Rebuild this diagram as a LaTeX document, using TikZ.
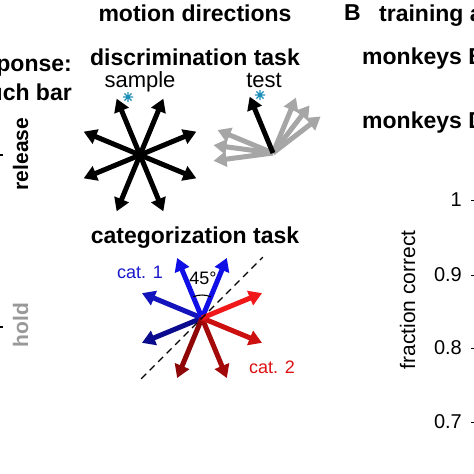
\documentclass[tikz,border=0pt]{standalone}
\usepackage{fontspec}
\setmainfont{Liberation Sans}
\usetikzlibrary{arrows.meta}
\definecolor{astc}{HTML}{1C8FB8}
\definecolor{greyarr}{HTML}{A6A6A6}
\definecolor{holdgrey}{HTML}{999999}
\definecolor{bA}{HTML}{1010E6}
\definecolor{bB}{HTML}{1414BC}
\definecolor{bC}{HTML}{0B0B8E}
\definecolor{rD}{HTML}{F01818}
\definecolor{rE}{HTML}{CC1010}
\definecolor{rF}{HTML}{A50A0A}
\definecolor{rG}{HTML}{8E0606}
\definecolor{cattxtA}{HTML}{1A1ACC}
\definecolor{cattxtB}{HTML}{DD1111}
\tikzset{
  arr/.style={line width=5pt,-{Triangle[width=15pt,length=13pt]}},
  ttl/.style={font=\fontsize{23}{27}\selectfont\bfseries, inner sep=0pt, anchor=base},
  lbl/.style={font=\fontsize{22}{26}\selectfont, inner sep=0pt, anchor=base},
  small/.style={font=\fontsize{18}{22}\selectfont, inner sep=0pt, anchor=base},
  side/.style={font=\fontsize{21}{25}\selectfont\bfseries, inner sep=0pt, anchor=base, rotate=90},
  ticklbl/.style={font=\fontsize{20}{24}\selectfont, inner sep=0pt, anchor=east},
  astmark/.pic={\draw[astc, line width=1.3pt] (-5pt,0pt)--(5pt,0pt) (0pt,-5pt)--(0pt,5pt)
     (-3.6pt,-3.6pt)--(3.6pt,3.6pt) (-3.6pt,3.6pt)--(3.6pt,-3.6pt);}
}
\begin{document}
\begin{tikzpicture}[x=1pt,y=-1pt]
\useasboundingbox (0,0) rectangle (474,474);
\clip (0,0) rectangle (474,474);
\fill[white] (0,0) rectangle (474,474);

% titles
\node[ttl] (t1) at (195,21) {motion directions};
\node[ttl] (t2) at (195,65) {discrimination task};
\node[ttl] (t3) at (195,243) {categorization task};
\node[ttl, anchor=base west] (tB) at (344,20) {B};
\node[ttl, anchor=base west] (tB2) at (379,21) {training a};
\node[ttl, anchor=base west] (mB) at (362,64) {monkeys B};
\node[ttl, anchor=base west] (mD) at (362,128) {monkeys D};

% left response labels
\node[ttl, anchor=base east] (r1) at (72,71.5) {response:};
\node[ttl, anchor=base east] (r2) at (72,100) {touch bar};
\node[side] (rel) at (28,154) {release};
\node[side, text=holdgrey] (hold) at (28,325) {hold};
\coordinate (d1) at (-3,155);
\coordinate (d2) at (3,155);
\coordinate (d3) at (-3,327);
\coordinate (d4) at (3,327);
\draw[line width=1.2pt] (d1) -- (d2);
\draw[line width=1.2pt] (d3) -- (d4);

% discrimination sample star
\node[lbl] (smp) at (140,87) {sample};
\coordinate (c1) at (140,155);
\foreach \a in {22.5,67.5,...,337.5}
  \draw[arr] (c1) -- ++(\a:61pt);
\pic at (128,97) {astmark};

% test display
\node[lbl] (tst) at (264,87) {test};
\coordinate (c2) at (273,153);
\foreach \a in {67.5,52.5,37.5,157.5,172.5,187.5}
  \draw[arr, greyarr] (c2) -- ++(\a:60pt);
\draw[arr] (c2) -- ++(112.5:61pt);
\pic at (260,95) {astmark};

% categorization star
\coordinate (c3) at (202,318);
\draw[arr, bC] (c3) -- ++(202.5:65pt);
\draw[arr, bB] (c3) -- ++(157.5:65pt);
\draw[arr, bA] (c3) -- ++(112.5:65pt);
\draw[arr, bA] (c3) -- ++(67.5:65pt);
\draw[arr, rG] (c3) -- ++(247.5:65pt);
\draw[arr, rF] (c3) -- ++(292.5:65pt);
\draw[arr, rE] (c3) -- ++(337.5:65pt);
\draw[arr, rD] (c3) -- ++(22.5:65pt);
\draw[line width=1.4pt, dash pattern=on 7pt off 5pt] (c3) ++(225:86pt) -- ++(45:172pt);
\draw[line width=1.1pt] (c3) ++(67.5:23pt) arc[start angle=67.5, end angle=112.5, radius=23pt];
\node[small] (deg) at (203,284) {45°};
\node[small, anchor=base west, text=cattxtA] (cat1) at (117,278.5) {cat. 1};
\node[small, anchor=base west, text=cattxtB] (cat2) at (249,373.5) {cat. 2};

% axis of panel B
\node[side, font=\fontsize{21}{25}\selectfont] (fc) at (415,300) {fraction correct};
\node[ticklbl] (y1) at (462,200) {1};
\node[ticklbl] (y9) at (462,275) {0.9};
\node[ticklbl] (y8) at (462,348) {0.8};
\node[ticklbl] (y7) at (462,422) {0.7};
\foreach \yy in {200,275,348,422}
  \draw[line width=0.6pt] (471,\yy) -- (475,\yy);
\end{tikzpicture}
\end{document}
